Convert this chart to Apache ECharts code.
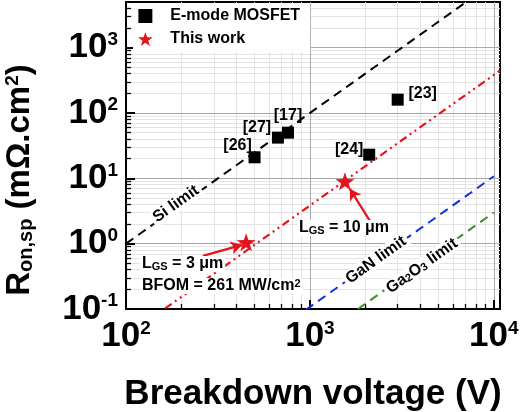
<!DOCTYPE html>
<html><head><meta charset="utf-8">
<script src="https://cdn.jsdelivr.net/npm/echarts@6/dist/echarts.min.js"></script>
<style>html,body{margin:0;padding:0;background:#fff}#c{width:520px;height:412px}</style>
</head><body><div id="c"></div>
<script>
// ---------- data ----------
const mosfetV = [500, 670, 760, 2100, 3000];
const mosfetR = [21, 42, 50, 23, 160];
const mosfetRef = ['[26]', '[27]', '[17]', '[24]', '[23]'];
const thisWorkV = [450, 1550];
const thisWorkR = [1.05, 9.0];
const siLimitV = [100, 10000];
const siLimitR = [1, 10000];
const bfomLineV = [100, 10800];
const bfomLineR = [0.0383, 447];
const ganLimitV = [950, 10000];
const ganLimitR = [0.097, 10.75];
const gaoLimitV = [1824, 10000];
const gaoLimitR = [0.1, 3.0];
const xMajorTicks = [100, 1000, 10000];
const yMajorTicks = [0.1, 1, 10, 100, 1000];
const xMinorTicks = [200, 300, 400, 500, 600, 700, 800, 900, 2000, 3000, 4000, 5000, 6000, 7000, 8000, 9000];
const yMinorTicks = [0.2, 0.3, 0.4, 0.5, 0.6, 0.7, 0.8, 0.9, 2, 3, 4, 5, 6, 7, 8, 9, 20, 30, 40, 50, 60, 70, 80, 90,
  200, 300, 400, 500, 600, 700, 800, 900, 2000, 3000, 4000];
// annotation arrows (data coords): [start, tip]
const arrow10um = [[2118, 2.23], [1648, 6.9]];
const arrow3um = [[262, 0.649], [427, 0.957]];

// ---------- style ----------
const FF = 'Liberation Sans';
const refLabelOffset = [[-17, -12], [-21, -10], [0, -17], [-20, -5], [25, -6]];
const starPath = 'path://M50,0 L61.8,35.1 L98.9,35.4 L69.1,57.6 L80.3,93 L50,71.5 L19.7,93 L30.9,57.6 L1.1,35.4 L38.2,35.1 Z';
const squarePath = 'path://M0,0 L10,0 L10,10 L0,10 Z';
const RED = '#e3141b';

const tickRich = {
  b: {fontSize: 35, fontWeight: 'bold', fontFamily: FF, color: '#000'},
  s: {fontSize: 19, fontWeight: 'bold', fontFamily: FF, color: '#000', verticalAlign: 'top'}
};
function powLabel(v) {
  const e = Math.round(Math.log10(v));
  return '{b|10}{s|' + e + '}';
}

function logAxis(dim, isMinor, extra) {
  const ax = {
    type: 'log', logBase: 10, gridIndex: 0,
    axisLine: {show: !isMinor, lineStyle: {color: '#000', width: 2}},
    axisTick: {show: true, inside: true, length: isMinor ? 5 : 9,
      lineStyle: {color: '#000', width: isMinor ? 1.3 : 2},
      customValues: dim === 'x' ? (isMinor ? xMinorTicks : xMajorTicks) : (isMinor ? yMinorTicks : yMajorTicks)},
    axisLabel: isMinor ? {show: false} : {
      customValues: dim === 'x' ? xMajorTicks : yMajorTicks,
      formatter: powLabel, rich: tickRich, margin: dim === 'x' ? 10 : 8
    },
    splitLine: {show: true, lineStyle: {color: isMinor ? '#e3e3e3' : '#a9a9a9', width: 1}},
    minorTick: {show: false}, minorSplitLine: {show: false},
    z: isMinor ? 0 : 1
  };
  return Object.assign(ax, extra);
}

const chart = echarts.init(document.getElementById('c'), null, {renderer: 'canvas'});
const textCommon = {fontFamily: FF, fontWeight: 'bold', fill: '#000'};

chart.setOption({
  animation: false,
  backgroundColor: '#fff',
  grid: {left: 126, right: 20, top: 2, bottom: 103, show: true, borderColor: '#000', borderWidth: 2,
    backgroundColor: 'transparent', outerBoundsMode: 'none', containLabel: false},
  xAxis: [
    logAxis('x', false, {min: 100, max: 10800, position: 'bottom',
      name: 'Breakdown voltage (V)', nameLocation: 'middle', nameGap: 68,
      nameTextStyle: {fontSize: 35, fontWeight: 'bold', fontFamily: FF, color: '#000'}}),
    logAxis('x', true, {min: 100, max: 10800, position: 'bottom'})
  ],
  yAxis: [
    logAxis('y', false, {min: 0.1, max: 5000, position: 'left'}),
    logAxis('y', true, {min: 0.1, max: 5000, position: 'left'})
  ],
  legend: {
    data: [{name: 'E-mode MOSFET', icon: squarePath}, {name: 'This work', icon: starPath}],
    orient: 'vertical', left: 133, top: 3, itemGap: 7, itemWidth: 24, itemHeight: 14,
    padding: [5, 10, 5, 5], backgroundColor: '#fff', selectedMode: false, z: 5,
    textStyle: {fontSize: 16, fontWeight: 'bold', fontFamily: FF, color: '#000', padding: [0, 0, 0, 8]}
  },
  series: [
    {
      name: 'Si limit', type: 'line', xAxisIndex: 0, yAxisIndex: 0, showSymbol: false, silent: true,
      data: siLimitV.map((v, i) => [v, siLimitR[i]]),
      lineStyle: {color: '#000', width: 2, type: [9, 6]}, z: 2
    },
    {
      name: 'BFOM', type: 'line', xAxisIndex: 0, yAxisIndex: 0, showSymbol: false, silent: true,
      data: bfomLineV.map((v, i) => [v, bfomLineR[i]]),
      lineStyle: {color: RED, width: 2.2, type: [8, 4, 2, 4, 2, 4]}, z: 2,
      markLine: {
        silent: true, symbol: ['none', 'arrow'], symbolSize: [10, 11],
        label: {show: false},
        lineStyle: {color: RED, width: 2.2, type: 'solid', opacity: 1},
        data: [
          [{coord: arrow10um[0]}, {coord: arrow10um[1]}],
          [{coord: arrow3um[0]}, {coord: arrow3um[1]}]
        ]
      }
    },
    {
      name: 'GaN limit', type: 'line', xAxisIndex: 0, yAxisIndex: 0, showSymbol: false, silent: true,
      data: ganLimitV.map((v, i) => [v, ganLimitR[i]]),
      lineStyle: {color: '#1030e0', width: 2, type: [9, 6]}, z: 2
    },
    {
      name: 'Ga2O3 limit', type: 'line', xAxisIndex: 0, yAxisIndex: 0, showSymbol: false, silent: true,
      data: gaoLimitV.map((v, i) => [v, gaoLimitR[i]]),
      lineStyle: {color: '#3d8f2d', width: 2, type: [9, 6]}, z: 2
    },
    {
      name: 'E-mode MOSFET', type: 'scatter', xAxisIndex: 0, yAxisIndex: 0,
      symbol: squarePath, symbolSize: 12, symbolKeepAspect: true,
      itemStyle: {color: '#000', opacity: 1},
      label: {show: true, position: 'inside', formatter: '{b}', color: '#000',
        fontSize: 16, fontWeight: 'bold', fontFamily: FF},
      data: mosfetV.map((v, i) => ({value: [v, mosfetR[i]], name: mosfetRef[i],
        label: {offset: refLabelOffset[i]}})),
      z: 4
    },
    {
      name: 'This work', type: 'scatter', xAxisIndex: 0, yAxisIndex: 0,
      symbol: starPath, symbolSize: 19, symbolKeepAspect: true,
      itemStyle: {color: RED, opacity: 1},
      data: thisWorkV.map((v, i) => [v, thisWorkR[i]]),
      z: 4
    }
  ],
  graphic: [
    {type: 'text', x: 20, y: 180, rotation: Math.PI / 2, z: 100,
      style: Object.assign({}, textCommon, {
        text: '{a|R}{s|on,sp}{a| (mΩ.cm}{p|2}{a|)}',
        rich: {
          a: {fontSize: 33, fontWeight: 'bold', fontFamily: FF, fill: '#000'},
          s: {fontSize: 20, fontWeight: 'bold', fontFamily: FF, fill: '#000', verticalAlign: 'bottom'},
          p: {fontSize: 19, fontWeight: 'bold', fontFamily: FF, fill: '#000', verticalAlign: 'top'}
        },
        align: 'center', verticalAlign: 'middle'})},
    {type: 'text', x: 176, y: 204, rotation: 0.617, z: 100,
      style: Object.assign({}, textCommon, {text: 'Si limit', fontSize: 16,
        backgroundColor: '#fff', padding: [0, 3], align: 'center', verticalAlign: 'middle'})},
    {type: 'text', x: 376, y: 260, rotation: 0.617, z: 100,
      style: Object.assign({}, textCommon, {text: 'GaN limit', fontSize: 16,
        backgroundColor: '#fff', padding: [0, 3], align: 'center', verticalAlign: 'middle'})},
    {type: 'text', x: 422, y: 266, rotation: 0.617, z: 100,
      style: Object.assign({}, textCommon, {
        text: '{a|Ga}{s|2}{a|O}{s|3}{a| limit}',
        rich: {
          a: {fontSize: 16, fontWeight: 'bold', fontFamily: FF, fill: '#000'},
          s: {fontSize: 11, fontWeight: 'bold', fontFamily: FF, fill: '#000', verticalAlign: 'bottom'}
        },
        backgroundColor: '#fff', padding: [0, 3], align: 'center', verticalAlign: 'middle'})},
    {type: 'text', x: 344, y: 228, z: 100,
      style: Object.assign({}, textCommon, {
        text: '{a|L}{s|GS}{a| = 10 μm}',
        rich: {
          a: {fontSize: 16, fontWeight: 'bold', fontFamily: FF, fill: '#000'},
          s: {fontSize: 11, fontWeight: 'bold', fontFamily: FF, fill: '#000', verticalAlign: 'bottom'}
        },
        backgroundColor: '#fff', padding: [0, 2], align: 'center', verticalAlign: 'middle'})},
    {type: 'text', x: 140, y: 264, z: 100,
      style: Object.assign({}, textCommon, {
        text: '{a|L}{s|GS}{a| = 3 μm}',
        rich: {
          a: {fontSize: 16, fontWeight: 'bold', fontFamily: FF, fill: '#000'},
          s: {fontSize: 11, fontWeight: 'bold', fontFamily: FF, fill: '#000', verticalAlign: 'bottom'}
        },
        backgroundColor: '#fff', padding: [0, 2], align: 'left', verticalAlign: 'middle'})},
    {type: 'text', x: 140, y: 286, z: 100,
      style: Object.assign({}, textCommon, {
        text: '{a|BFOM = 261 MW/cm}{p|2}',
        rich: {
          a: {fontSize: 16, fontWeight: 'bold', fontFamily: FF, fill: '#000'},
          p: {fontSize: 11, fontWeight: 'bold', fontFamily: FF, fill: '#000', verticalAlign: 'top'}
        },
        backgroundColor: '#fff', padding: [0, 2], align: 'left', verticalAlign: 'middle'})}
  ]
});
</script>
</body></html>
